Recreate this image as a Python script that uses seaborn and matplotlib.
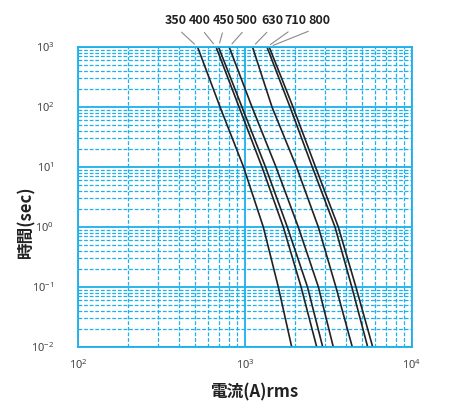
import numpy as np
import pandas as pd
import matplotlib
matplotlib.use('Agg')
import matplotlib.pyplot as plt
import seaborn as sns

# fuse time-current curves, current at each decade of time
times = [1000, 100, 10, 1, 0.1, 0.01]
ratings = [350, 400, 450, 500, 630, 710, 800]
i_350 = [520, 709, 980, 1287, 1583, 1904]
i_400 = [671, 921, 1264, 1696, 2167, 2688]
i_450 = [694, 959, 1327, 1792, 2367, 2920]
i_500 = [804, 1101, 1533, 2085, 2751, 3379]
i_630 = [1109, 1451, 2034, 2748, 3502, 4390]
i_710 = [1354, 1860, 2529, 3458, 4361, 5428]
i_800 = [1396, 1939, 2644, 3620, 4615, 5817]
currents = [i_350, i_400, i_450, i_500, i_630, i_710, i_800]

rows = []
for r, cur in zip(ratings, currents):
    for c, t in zip(cur, times):
        rows.append({'rating': r, 'current': c, 'time': t})
df = pd.DataFrame(rows)

sns.set_style('white')
plt.rcParams['font.family'] = ['Noto Sans CJK JP', 'DejaVu Sans']

blue = '#1DB0EC'
W, H = 450, 409
fig = plt.figure(figsize=(4.5, 4.09), dpi=100)
ax = fig.add_axes([78 / W, 1 - 347 / H, (412 - 78) / W, (347 - 47) / H])

sns.lineplot(data=df, x='current', y='time', hue='rating', units='rating',
             estimator=None, sort=False, palette=['#222222'] * len(ratings),
             linewidth=1.2, legend=False, ax=ax)

ax.set_xscale('log')
ax.set_yscale('log')
ax.set_xlim(100, 10000)
ax.set_ylim(0.01, 1000)
ax.set_xticks([100, 1000, 10000])
ax.set_yticks([0.01, 0.1, 1, 10, 100, 1000])
ax.xaxis.set_minor_locator(matplotlib.ticker.LogLocator(base=10, subs=np.arange(2, 10)))
ax.yaxis.set_minor_locator(matplotlib.ticker.LogLocator(base=10, subs=np.arange(2, 10)))
ax.xaxis.set_minor_formatter(matplotlib.ticker.NullFormatter())
ax.yaxis.set_minor_formatter(matplotlib.ticker.NullFormatter())
ax.grid(which='major', color=blue, linewidth=1.3, linestyle='-')
ax.grid(which='minor', color=blue, linewidth=0.9, linestyle=(0, (3, 1.5)))
ax.set_axisbelow(True)
for s in ax.spines.values():
    s.set_color(blue)
    s.set_linewidth(1.3)
ax.tick_params(which='both', length=0)
ax.tick_params(axis='y', pad=17, labelsize=8, labelcolor='#444444')
ax.tick_params(axis='x', pad=8, labelsize=8, labelcolor='#444444')
for lab in ax.get_xticklabels() + ax.get_yticklabels():
    lab.set_family('Noto Sans')
ax.set_xlabel('')
ax.set_ylabel('')

# rating labels with leader lines to the top of each curve
label_x = [176, 200, 224, 247, 272, 295, 319]
for r, cur, lx in zip(ratings, currents, label_x):
    ax.annotate(str(r), xy=(cur[0], times[0]), xycoords='data',
                xytext=(lx, H - 20.5), textcoords='figure pixels',
                ha='center', va='center', fontsize=9, fontweight='bold',
                color='#222222', family='Noto Sans CJK JP', annotation_clip=False,
                arrowprops=dict(arrowstyle='-', color='#8a8a8a', lw=0.8,
                                relpos=(0.5, 0), shrinkA=2, shrinkB=3))

fig.text(26 / W, 1 - 222 / H, '時間(sec)', rotation=90, ha='center', va='center',
         fontsize=12, fontweight='bold', color='#222222')
fig.text(254 / W, 1 - 392 / H, '電流(A)rms', ha='center', va='center',
         fontsize=12, fontweight='bold', color='#222222')

fig.savefig('out.png', dpi=100)
